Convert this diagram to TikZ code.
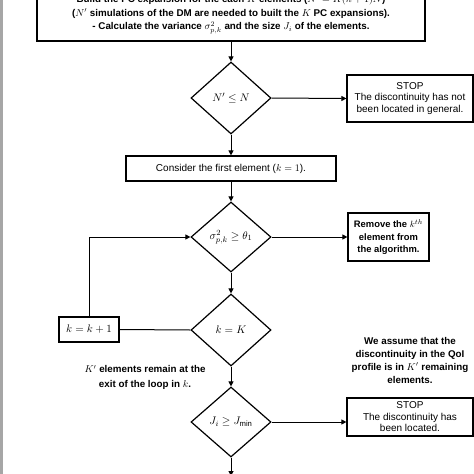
\documentclass[tikz,border=0pt]{standalone}
\usepackage{fontspec}
\setmainfont{Liberation Sans}
\usetikzlibrary{shapes.geometric,arrows.meta}
\begin{document}
\begin{tikzpicture}[x=1pt,y=-1pt,
  box/.style={draw,line width=1.2pt,align=center,inner sep=2pt,font=\fontsize{10}{11.5}\selectfont},
  dec/.style={draw,diamond,line width=1.2pt,minimum width=80pt,minimum height=72pt,inner sep=0pt,font=\fontsize{11}{12}\selectfont},
  note/.style={align=center,font=\bfseries\fontsize{9.8}{13}\selectfont},
  arr/.style={line width=1pt,-{Triangle[length=5pt,width=5pt]}},
  ln/.style={line width=1pt}]
\useasboundingbox (0,0) rectangle (474,474);
\clip (0,0) rectangle (474,474);
\fill[gray!70] (0,0) rectangle (2.5,474);
\node[box,font=\bfseries\fontsize{9.8}{13.5}\selectfont,minimum width=388pt,minimum height=53pt] (top) at (231,14.5)
  {Build the PC expansion for the each $K$ elements ($N' = K(n+1)N$)\\
   ($N'$ simulations of the DM are needed to built the $K$ PC expansions).\\
   - Calculate the variance $\sigma^2_{p,k}$ and the size $J_i$ of the elements.};
\node[dec] (d1) at (231,98) {$N'\leq N$};
\node[box,minimum width=126pt,minimum height=47pt] (stop1) at (410,98.5)
  {STOP\\The discontinuity has not\\been located in general.};
\node[box,minimum width=210pt,minimum height=25pt] (c1) at (231,168.5)
  {Consider the first element ($k=1$).};
\node[dec,minimum height=70pt] (d2) at (231,237) {$\sigma^2_{p,k}\geq\theta_1$};
\node[box,font=\bfseries\fontsize{9.4}{12.5}\selectfont,minimum width=81pt,minimum height=48pt] (rem) at (388.5,237)
  {Remove the $k^{th}$\\element from\\the algorithm.};
\node[dec] (d3) at (231,330) {$k=K$};
\node[box,font=\fontsize{10.5}{12}\selectfont,minimum width=60pt,minimum height=25pt] (kb) at (89,329.5) {$k=k+1$};
\node[note,font=\bfseries\fontsize{9.8}{15}\selectfont] (n1) at (145,377.5) {$K'$ elements remain at the\\exit of the loop in $k$.};
\node[note] (n2) at (410,360) {We assume that the\\discontinuity in the QoI\\profile is in $K'$ remaining\\elements.};
\node[dec,minimum height=70pt] (d4) at (231,422) {$J_i\geq J_{\min}$};
\node[box,minimum width=126pt,minimum height=38pt] (stop2) at (410,417)
  {STOP\\The discontinuity has\\been located.};
\coordinate (exit) at (231,476);
\draw[arr] (top.south) -- (d1.north);
\draw[arr] (d1.east) -- (stop1.west);
\draw[arr] (d1.south) -- (c1.north);
\draw[arr] (c1.south) -- (d2.north);
\draw[arr] (d2.east) -- (rem.west);
\draw[arr] (d2.south) -- (d3.north);
\draw[ln] (d3.west) -- (kb.east);
\draw[arr] (kb.north) |- (d2.west);
\draw[arr] (d3.south) -- (d4.north);
\draw[arr] (d4.east) -- (d4.east -| stop2.west);
\draw[arr] (d4.south) -- (exit);
\end{tikzpicture}
\end{document}
